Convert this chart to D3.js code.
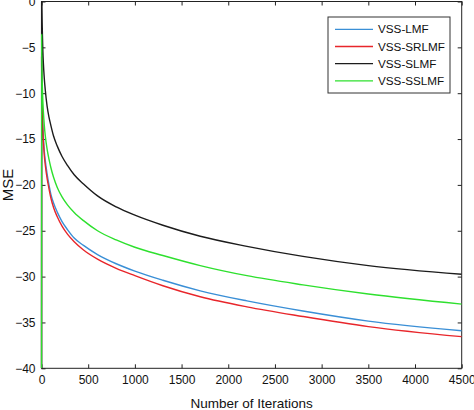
<!DOCTYPE html>
<html>
<head>
<meta charset="utf-8">
<script src="https://cdn.jsdelivr.net/npm/d3@7"></script>
<style>
  html, body { margin: 0; padding: 0; background: #fff; }
  svg { display: block; }
  text { font-family: "Liberation Sans", Arial, sans-serif; fill: #111; }
</style>
</head>
<body>
<svg id="chart" width="474" height="410"></svg>
<script>
const iterations = [0, 1, 2, 3, 5, 7, 10, 15, 20, 30, 40, 60, 80, 100, 130, 170, 220, 280, 350, 450, 600, 800, 1000, 1300, 1700, 2200, 2800, 3500, 4500];
const seriesNames = ["VSS-LMF", "VSS-SRLMF", "VSS-SLMF", "VSS-SSLMF"];
const seriesColors = ["#3a8fd6", "#e8262b", "#1c1c1c", "#2ee02e"];
const lmf   = [-40, -6,   -7.5, -8.5, -10,  -11.1, -12.2, -13.7, -14.8, -16.3, -17.3, -18.8, -20.0, -21.0, -22.0, -23.0, -24.0, -24.9, -25.8, -26.6, -27.6, -28.6, -29.4, -30.4, -31.55, -32.65, -33.75, -34.85, -35.9];
const srlmf = [-40, -6,   -7.6, -8.7, -10.3,-11.4, -12.6, -14.1, -15.2, -16.8, -17.8, -19.3, -20.4, -21.4, -22.5, -23.5, -24.5, -25.4, -26.2, -27.1, -28.1, -29.1, -29.9, -31.0, -32.2, -33.3, -34.35, -35.45, -36.55];
const slmf  = [-40, 3,    2,    1,    -0.8, -2.2,  -3.7,  -5.5,  -6.7,  -8.4,  -9.6,  -11.4, -12.6, -13.5, -14.7, -15.8, -16.9, -17.9, -18.9, -19.9, -21.2, -22.4, -23.3, -24.4, -25.6, -26.7, -27.8, -28.8, -29.75];
const sslmf = [-40, -3.6, -5,   -6,   -7.6, -8.6,  -9.6,  -11.0, -12.0, -13.5, -14.6, -16.1, -17.2, -18.1, -19.2, -20.3, -21.3, -22.2, -23.0, -23.9, -25.0, -26.0, -26.8, -27.7, -28.8, -29.9, -30.9, -31.9, -33.0];
const seriesValues = [lmf, srlmf, slmf, sslmf];
const xTicks = [0, 500, 1000, 1500, 2000, 2500, 3000, 3500, 4000, 4500];
const yTicks = [0, -5, -10, -15, -20, -25, -30, -35, -40];
const xLabel = "Number of Iterations";
const yLabel = "MSE";

const svg = d3.select("#chart");
const L = 41.5, R = 461.7, T = 1.5, B = 368.3;
const x = d3.scaleLinear().domain([0, 4500]).range([L, R]);
const y = d3.scaleLinear().domain([-40, 0]).range([B, T]);

// axes (ticks inward)
const axStyle = g => {
  g.selectAll(".tick line").attr("stroke", "#222").attr("stroke-width", 1);
  g.selectAll("text").style("font-family", '"Liberation Sans", Arial, sans-serif').style("font-size", "12px").attr("fill", "#111");
};
svg.append("g").attr("transform", `translate(0,${B})`)
  .call(d3.axisBottom(x).tickValues(xTicks).tickSize(-4).tickPadding(7).tickFormat(d3.format("d")))
  .call(axStyle);
svg.append("g").attr("transform", `translate(0,${T})`)
  .call(d3.axisTop(x).tickValues(xTicks).tickSize(-4).tickFormat(""))
  .call(axStyle);
svg.append("g").attr("transform", `translate(${L},0)`)
  .call(d3.axisLeft(y).tickValues(yTicks).tickSize(-4).tickPadding(6).tickFormat(d3.format("d")))
  .call(axStyle);
svg.append("g").attr("transform", `translate(${R},0)`)
  .call(d3.axisRight(y).tickValues(yTicks).tickSize(-4).tickFormat(""))
  .call(axStyle);
svg.selectAll("path.domain").remove();
svg.append("rect").attr("x", L).attr("y", T).attr("width", R - L).attr("height", B - T)
  .attr("fill", "none").attr("stroke", "#222").attr("stroke-width", 1);

// curves
svg.append("clipPath").attr("id", "clip").append("rect")
  .attr("x", L - 1).attr("y", T).attr("width", R - L + 1).attr("height", B - T);
const line = d3.line().x(d => x(d[0])).y(d => y(d[1])).curve(d3.curveMonotoneX);
const plot = svg.append("g").attr("clip-path", "url(#clip)");
seriesValues.forEach((vals, i) => {
  plot.append("path")
    .datum(iterations.map((it, j) => [it, vals[j]]))
    .attr("fill", "none")
    .attr("stroke", seriesColors[i])
    .attr("stroke-width", 1.4)
    .attr("d", line);
});

// labels
svg.append("text").attr("x", (L + R) / 2).attr("y", 408).attr("text-anchor", "middle")
  .style("font-size", "13.5px").text(xLabel);
svg.append("text").attr("transform", `translate(13,${(T + B) / 2}) rotate(-90)`).attr("text-anchor", "middle")
  .style("font-size", "15px").text(yLabel);

// legend
const lg = svg.append("g");
lg.append("rect").attr("x", 328).attr("y", 17).attr("width", 122).attr("height", 76)
  .attr("fill", "#fff").attr("stroke", "#333").attr("stroke-width", 1);
const rowY = [29.3, 46.5, 63.7, 80.9];
seriesNames.forEach((name, i) => {
  lg.append("line").attr("x1", 335).attr("x2", 373).attr("y1", rowY[i]).attr("y2", rowY[i])
    .attr("stroke", seriesColors[i]).attr("stroke-width", 1.3);
  lg.append("text").attr("x", 378).attr("y", rowY[i] + 4).style("font-size", "11.7px").text(name);
});
</script>
</body>
</html>
